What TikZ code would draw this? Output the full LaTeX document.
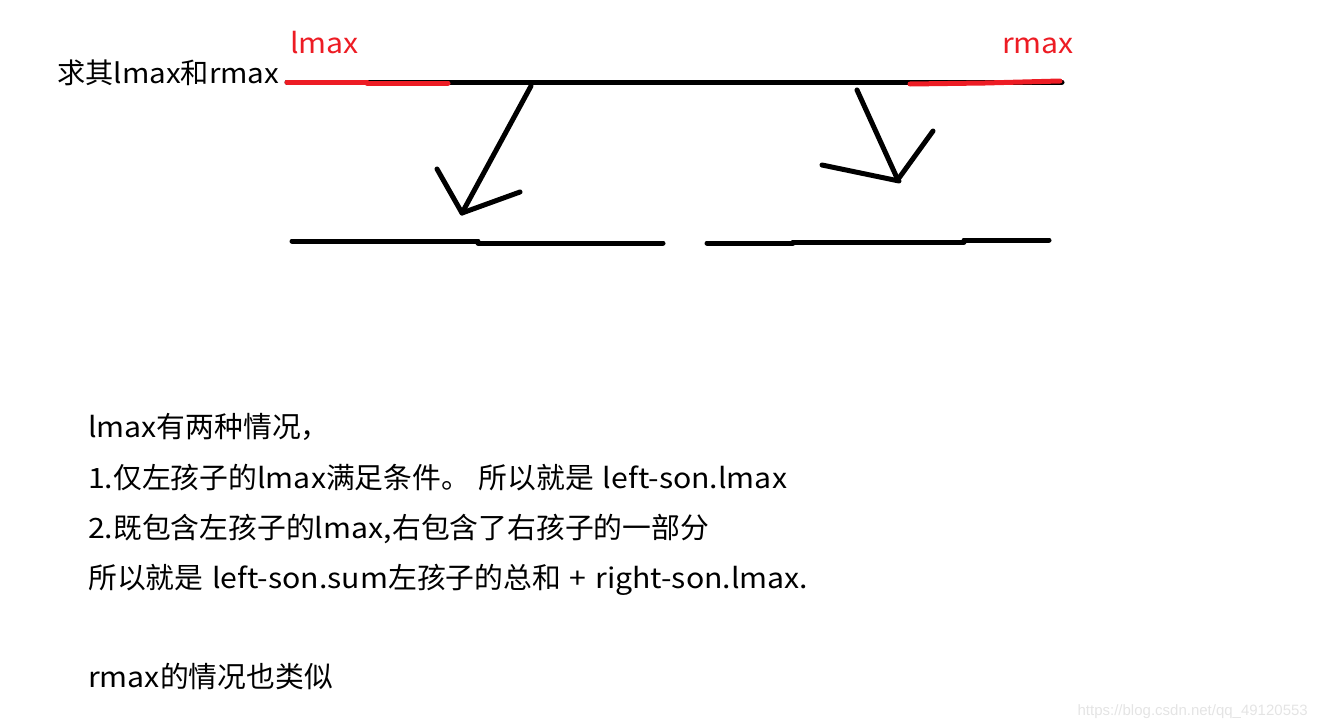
\documentclass[tikz,border=0pt]{standalone}
\usepackage{fontspec}
\setmainfont{Noto Sans CJK SC}
\newfontfamily\latn[Scale=0.9722,FakeStretch=1.08,WordSpace=1.3]{Noto Sans CJK SC}
\newcommand\lx[1]{{\latn #1}}
\newfontfamily\wmfont{Liberation Sans}
\definecolor{penred}{RGB}{237,28,36}
\definecolor{wmgray}{RGB}{228,228,228}
\begin{document}
\begin{tikzpicture}[x=1pt,y=-1pt,
  pen/.style={line width=5pt,line cap=round,line join=round,black},
  redpen/.style={line width=5pt,line cap=round,penred},
  txt/.style={anchor=base west,inner sep=0pt,font=\fontsize{28.8}{34}\selectfont},
  redtxt/.style={txt,text=penred}]
\useasboundingbox (0,0) rectangle (1318,728);
% labels
\node[txt,font=\fontsize{28.2}{34}\selectfont] (title) at (57,83) {求其\lx{lmax}和\lx{rmax}};
\node[redtxt] (lmaxlab) at (290,53) {\lx{lmax}};
\node[redtxt] (rmaxlab) at (1002,53) {\lx{rmax}};
% parent segment
\coordinate (pA) at (287,82);
\coordinate (pB) at (1062,82);
\draw[pen] (pA) -- (pB);
\coordinate (lr1) at (287,82); \coordinate (lr2) at (367,82);
\coordinate (lr3) at (367,83); \coordinate (lr4) at (448,83);
\draw[redpen] (lr1) -- (lr2);
\draw[redpen] (lr3) -- (lr4);
\coordinate (rr1) at (910,84); \coordinate (rr2) at (985,83);
\coordinate (rr4) at (1060,81);
\draw[redpen] (rr1) -- (rr2) -- (rr4);
% left arrow
\coordinate (la0) at (531,86);
\coordinate (la1) at (462,213);
\coordinate (lh1) at (437,169);
\coordinate (lh2) at (520,192);
\draw[pen] (la0) -- (la1);
\draw[pen] (lh1) -- (la1) -- (lh2);
% right arrow
\coordinate (ra0) at (857,90);
\coordinate (ra1) at (897,178);
\coordinate (rh1) at (822,165);
\coordinate (rh2) at (933,131);
\coordinate (ra2) at (899,181);
\coordinate (ra3) at (899,178);
\draw[pen] (ra0) -- (ra1);
\draw[pen] (rh1) -- (ra2);
\draw[pen] (ra3) -- (rh2);
% children segments
\coordinate (c1) at (292,241); \coordinate (c2) at (478,241);
\coordinate (c3) at (478,243); \coordinate (c4) at (663,243);
\draw[pen] (c1) -- (c2);
\draw[pen] (c3) -- (c4);
\coordinate (d1) at (707,243); \coordinate (d2) at (793,243);
\coordinate (d3) at (793,242); \coordinate (d4) at (964,242);
\coordinate (d5) at (964,240); \coordinate (d6) at (1049,240);
\draw[pen] (d1) -- (d2);
\draw[pen] (d3) -- (d4);
\draw[pen] (d5) -- (d6);
% explanation text
\node[txt] (t1) at (88,437) {\lx{lmax}有两种情况，};
\node[txt] (t2) at (88,488) {\lx{1.}仅左孩子的\lx{lmax}满足条件。\lx{ }所以就是\lx{ left-son.lmax}};
\node[txt] (t3) at (88,538) {\lx{2.}既包含左孩子的\lx{lmax,}右包含了右孩子的一部分};
\node[txt] (t4) at (88,588) {所以就是\lx{ left-son.sum}左孩子的总和\lx{ + right-son.lmax.}};
\node[txt] (t5) at (88,687) {\lx{rmax}的情况也类似};
% watermark
\node[anchor=base east,inner sep=0pt,text=wmgray,font=\wmfont\fontsize{15}{18}\selectfont] (wm) at (1308,715) {https://blog.csdn.net/qq\_49120553};
\end{tikzpicture}
\end{document}
